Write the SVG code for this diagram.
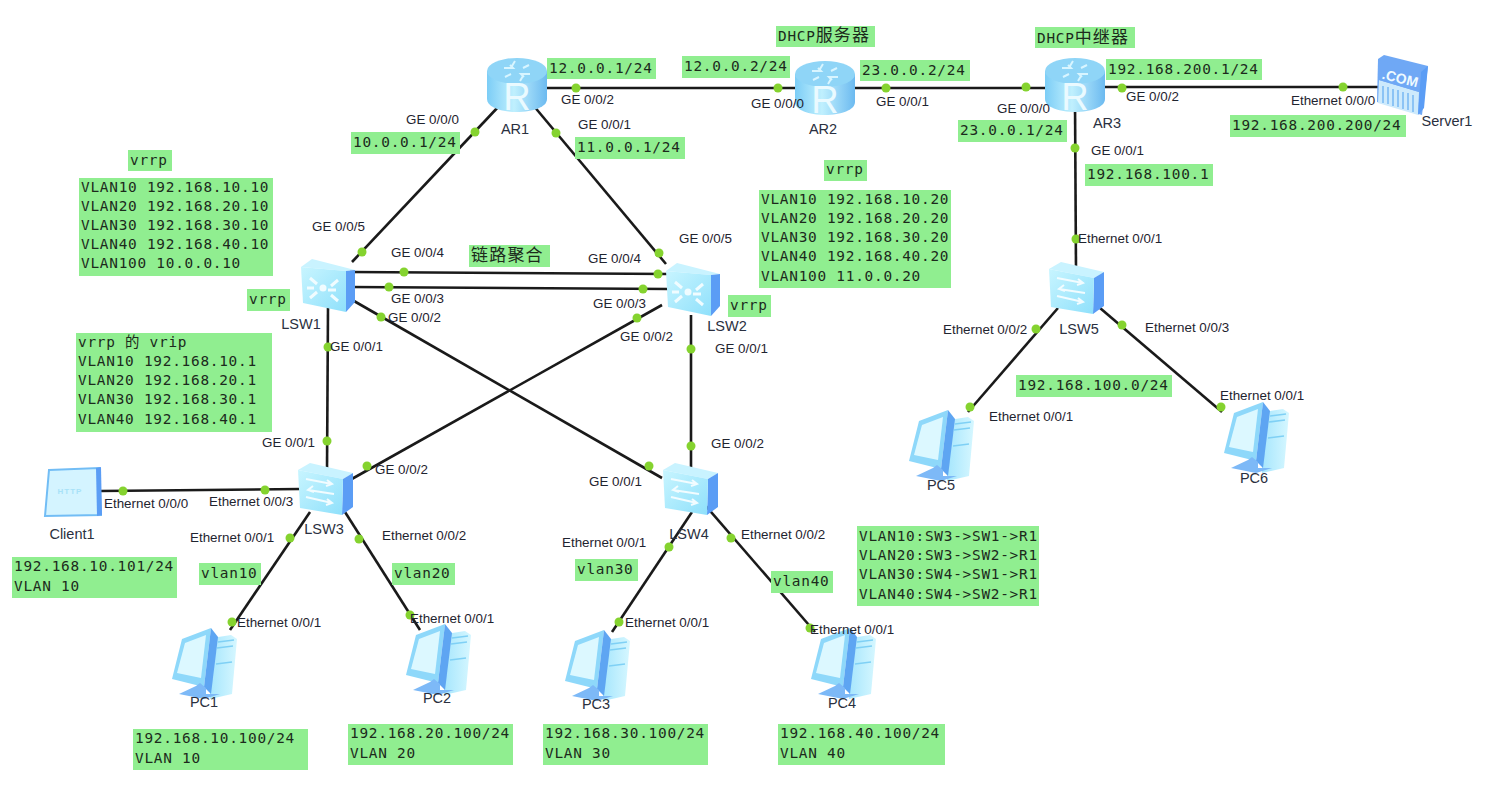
<svg xmlns="http://www.w3.org/2000/svg" width="1504" height="806" viewBox="0 0 1504 806">
<style>
text{font-family:"Liberation Sans","Noto Sans CJK SC",sans-serif;font-size:13.4px;fill:#1f2430}
.n{font-size:14.5px;fill:#2a3040;text-anchor:middle}
.m{font-family:"DejaVu Sans Mono","Noto Sans CJK SC",monospace;font-size:14.4px;letter-spacing:.75px;fill:#1c2a1c}
.z{font-size:17px;letter-spacing:1.2px}
.g{fill:#90ee90}
.c line{stroke:#1a1a1a;stroke-width:2.6}
.c circle{fill:#85d32f;r:4.5px}
.w{fill:none;stroke:#f2fcff;stroke-width:2}
</style>
<defs>
<linearGradient id="rb" x1="0" x2="1" y1="0" y2="0"><stop offset="0" stop-color="#7ccdf6"/><stop offset=".45" stop-color="#c0f0fe"/><stop offset="1" stop-color="#6cbaf0"/></linearGradient>
<linearGradient id="sf" x1="0" x2="1" y1="0" y2="1"><stop offset="0" stop-color="#c8f5ff"/><stop offset="1" stop-color="#8fe0fb"/></linearGradient>
<linearGradient id="tw" x1="0" x2="1" y1="0" y2="0"><stop offset="0" stop-color="#a6e6fd"/><stop offset="1" stop-color="#d6f7ff"/></linearGradient>
<g id="router">
<path d="M-30 -14V14C-30 22-16 27 0 27S30 22 30 14V-14Z" fill="url(#rb)"/>
<ellipse cx="0" cy="-14" rx="30" ry="13" fill="#8fd5f7"/>
<path d="M-13 -17h9l-3 -3M13 -11h-9l3 3M-2 -24l-3 5M3 -4l3 -5M12 -20l-6 3M-12 -8l6 -3" stroke="#d8f5ff" stroke-width="2" fill="none"/>
<text x="0" y="25" text-anchor="middle" style="font-size:38px;fill:#eafaff">R</text>
</g>
<g id="l3">
<path d="M-25 -19L-14 -27L29 -16L20 -15Z" fill="#c9f3ff"/>
<path d="M20 -15L29 -16V16L20 26Z" fill="#5b9df5"/>
<path d="M-25 -19L20 -15V26L-23 17Z" fill="url(#sf)"/>
<path d="M-16 -8l7 6M12 -6l-7 6M-16 12l7 -6M12 15l-7 -6M-19 2h7M2 4h8" stroke="#f0fcff" stroke-width="3" fill="none"/>
<circle cx="-3" cy="2" r="3.500" fill="#f0fcff"/>
</g>
<g id="l2">
<path d="M-28 -20L-16 -27L27 -17L17 -11Z" fill="#c9f3ff"/>
<path d="M17 -11L27 -17V17L16 25Z" fill="#5b9df5"/>
<path d="M-28 -20L17 -11L16 25L-26 18Z" fill="url(#sf)"/>
<path class="w" d="M-20 -11L6 -6M1 -10l5 4l-6 2M-18 0L8 4M-13 -4l-5 4l6 2M-20 7L6 13M1 9l5 4l-6 2"/>
</g>
<g id="pc">
<path d="M8 -28L27 -31L33 -27L28 28L6 33Z" fill="url(#tw)"/>
<path d="M14 -24l16 -2M13 -18l16 -2M12 -2l16 -2" stroke="#7fd0f5" stroke-width="1.500" fill="none"/>
<path d="M-22 -27L7 -38L0 21L-32 13Z" fill="#8ed8fa"/>
<path d="M-19 -23L2 -31L-3 12L-27 7Z" fill="#dcf8ff"/>
<path d="M7 -38L14 -29L7 28L0 21Z" fill="#5ea5f2"/>
<path d="M-8 20L-4 17L2 22V28L16 28L0 33L-25 28Z" fill="#7db9f7"/>
</g>
</defs>
<g class="c" id="connectors">
<line x1="517" y1="88" x2="827" y2="88"/>
<line x1="827" y1="88" x2="1075" y2="88"/>
<line x1="1075" y1="87" x2="1400" y2="87"/>
<line x1="500" y1="105" x2="352" y2="262"/>
<line x1="533" y1="105" x2="666" y2="264"/>
<line x1="1075" y1="100" x2="1076" y2="270"/>
<line x1="350" y1="272" x2="670" y2="274"/>
<line x1="350" y1="287" x2="670" y2="289"/>
<line x1="354" y1="301" x2="662" y2="478"/>
<line x1="662" y1="305" x2="350" y2="480"/>
<line x1="328" y1="308" x2="327" y2="470"/>
<line x1="691" y1="315" x2="691" y2="472"/>
<line x1="100" y1="491" x2="300" y2="489"/>
<line x1="310" y1="512" x2="230" y2="630"/>
<line x1="345" y1="512" x2="420" y2="630"/>
<line x1="692" y1="512" x2="612" y2="632"/>
<line x1="705" y1="505" x2="815" y2="632"/>
<line x1="1058" y1="308" x2="968" y2="412"/>
<line x1="1100" y1="308" x2="1222" y2="412"/>
<circle cx="576" cy="88"/><circle cx="778" cy="88"/><circle cx="886" cy="88"/><circle cx="1026" cy="87"/><circle cx="1122" cy="88"/><circle cx="1343" cy="87"/>
<circle cx="475" cy="132"/><circle cx="556" cy="133"/><circle cx="1075" cy="148"/><circle cx="362" cy="252"/><circle cx="659" cy="253"/>
<circle cx="404" cy="272"/><circle cx="658" cy="274"/><circle cx="389" cy="287"/><circle cx="643" cy="289"/><circle cx="381" cy="317"/><circle cx="637" cy="318"/>
<circle cx="328" cy="347"/><circle cx="691" cy="349"/><circle cx="327" cy="441"/><circle cx="691" cy="446"/><circle cx="367" cy="466"/><circle cx="649" cy="466"/>
<circle cx="123" cy="491"/><circle cx="265" cy="490"/><circle cx="290" cy="538"/><circle cx="359" cy="539"/><circle cx="669" cy="547"/><circle cx="731" cy="538"/>
<circle cx="232" cy="622"/><circle cx="410" cy="615"/><circle cx="619" cy="622"/><circle cx="810" cy="628"/>
<circle cx="1076" cy="239"/><circle cx="1036" cy="329"/><circle cx="1122" cy="325"/><circle cx="970" cy="407"/><circle cx="1221" cy="407"/>
</g>
<g id="AR1"><use href="#router" x="517" y="85"/><text class="n" x="515" y="134">AR1</text></g>
<g id="AR2"><use href="#router" x="825" y="88"/><text class="n" x="823" y="134">AR2</text></g>
<g id="AR3"><use href="#router" x="1075" y="85"/><text class="n" x="1107" y="128">AR3</text></g>
<g id="Server1">
<path d="M1378 59L1384 55L1428 66L1422 115L1377 102Z" fill="#6fa8f5"/>
<path d="M1379 80L1419 92L1418 115L1378 103Z" fill="#cdeafc"/>
<path d="M1421 72L1428 66L1424 108L1418 115Z" fill="#5b9df5"/>
<path d="M1379 60L1421 72L1419 92L1379 80Z" fill="#6fa8f5"/>
<path d="M1383 86v17M1388 87v17M1393 89v17M1398 90v17M1403 92v17M1408 93v17M1413 95v17" stroke="#8cc4f5" stroke-width="2"/>
<text x="1399" y="83" text-anchor="middle" transform="rotate(14 1399 83)" style="font-size:14px;font-weight:bold;fill:#eefaff">.COM</text>
<text class="n" x="1447" y="126">Server1</text>
</g>
<g id="LSW1"><use href="#l3" x="326" y="286"/><text class="n" x="301" y="329">LSW1</text></g>
<g id="LSW2"><use href="#l3" x="691" y="290"/><text class="n" x="727" y="331">LSW2</text></g>
<g id="LSW3"><use href="#l2" x="326" y="490"/><text class="n" x="324" y="534">LSW3</text></g>
<g id="LSW4"><use href="#l2" x="691" y="490"/><text class="n" x="689" y="539">LSW4</text></g>
<g id="LSW5"><use href="#l2" x="1077" y="289"/><text class="n" x="1079" y="334">LSW5</text></g>
<g id="Client1">
<path d="M49 470L99 468L101 515L45 516Z" fill="#d4f4ff" stroke="#72bdf5" stroke-width="2"/>
<path d="M96 468L101 467L102 515L97 516Z" fill="#5b9df5"/>
<text x="70" y="494" text-anchor="middle" style="font-size:8px;font-weight:bold;letter-spacing:1px;fill:#a8e2f8">HTTP</text>
<text class="n" x="72" y="539">Client1</text>
</g>
<g id="PC1"><use href="#pc" x="204" y="666"/><text class="n" x="204" y="707">PC1</text></g>
<g id="PC2"><use href="#pc" x="438" y="662"/><text class="n" x="437" y="703">PC2</text></g>
<g id="PC3"><use href="#pc" x="597" y="668"/><text class="n" x="596" y="709">PC3</text></g>
<g id="PC4"><use href="#pc" x="843" y="666"/><text class="n" x="842" y="708">PC4</text></g>
<g id="PC5"><use href="#pc" x="941" y="448"/><text class="n" x="941" y="490">PC5</text></g>
<g id="PC6"><use href="#pc" x="1256" y="440"/><text class="n" x="1254" y="483">PC6</text></g>
<g id="port-labels">
<text x="561" y="104">GE 0/0/2</text><text x="751" y="108">GE 0/0/0</text><text x="876" y="106">GE 0/0/1</text>
<text x="997" y="113">GE 0/0/0</text><text x="1126" y="101">GE 0/0/2</text><text x="1291" y="105">Ethernet 0/0/0</text>
<text x="406" y="124">GE 0/0/0</text><text x="578" y="129">GE 0/0/1</text><text x="1091" y="155">GE 0/0/1</text>
<text x="312" y="231">GE 0/0/5</text><text x="679" y="243">GE 0/0/5</text>
<text x="391" y="257">GE 0/0/4</text><text x="588" y="263">GE 0/0/4</text>
<text x="391" y="303">GE 0/0/3</text><text x="593" y="308">GE 0/0/3</text>
<text x="388" y="322">GE 0/0/2</text><text x="620" y="341">GE 0/0/2</text>
<text x="330" y="351">GE 0/0/1</text><text x="715" y="353">GE 0/0/1</text>
<text x="262" y="447">GE 0/0/1</text><text x="711" y="448">GE 0/0/2</text>
<text x="375" y="474">GE 0/0/2</text><text x="589" y="486">GE 0/0/1</text>
<text x="104" y="508">Ethernet 0/0/0</text><text x="209" y="506">Ethernet 0/0/3</text>
<text x="190" y="542">Ethernet 0/0/1</text><text x="382" y="540">Ethernet 0/0/2</text>
<text x="562" y="547">Ethernet 0/0/1</text><text x="741" y="539">Ethernet 0/0/2</text>
<text x="237" y="627">Ethernet 0/0/1</text><text x="410" y="623">Ethernet 0/0/1</text>
<text x="625" y="627">Ethernet 0/0/1</text><text x="810" y="634">Ethernet 0/0/1</text>
<text x="1078" y="243">Ethernet 0/0/1</text><text x="943" y="334">Ethernet 0/0/2</text><text x="1145" y="332">Ethernet 0/0/3</text>
<text x="989" y="421">Ethernet 0/0/1</text><text x="1220" y="400">Ethernet 0/0/1</text>
</g>
<g id="notes">
<rect class="g" x="776" y="26" width="99" height="21"/><text class="m" x="778" y="41">DHCP<tspan class="z">服务器</tspan></text>
<rect class="g" x="547" y="58" width="109" height="21"/><text class="m" x="549" y="73">12.0.0.1/24</text>
<rect class="g" x="682" y="56" width="108" height="22"/><text class="m" x="684" y="71">12.0.0.2/24</text>
<rect class="g" x="860" y="60" width="110" height="21"/><text class="m" x="862" y="75">23.0.0.2/24</text>
<rect class="g" x="1035" y="27" width="100" height="21"/><text class="m" x="1037" y="43">DHCP<tspan class="z">中继器</tspan></text>
<rect class="g" x="1106" y="59" width="156" height="21"/><text class="m" x="1108" y="74">192.168.200.1/24</text>
<rect class="g" x="958" y="120" width="109" height="22"/><text class="m" x="960" y="135">23.0.0.1/24</text>
<rect class="g" x="1230" y="115" width="176" height="22"/><text class="m" x="1232" y="130">192.168.200.200/24</text>
<rect class="g" x="1085" y="164" width="128" height="22"/><text class="m" x="1087" y="179">192.168.100.1</text>
<rect class="g" x="351" y="132" width="109" height="22"/><text class="m" x="353" y="147">10.0.0.1/24</text>
<rect class="g" x="575" y="137" width="110" height="22"/><text class="m" x="577" y="152">11.0.0.1/24</text>
<rect class="g" x="128" y="150" width="44" height="21"/><text class="m" x="130" y="165">vrrp</text>
<rect class="g" x="79" y="178" width="194" height="98"/>
<text class="m"><tspan x="81" y="192">VLAN10 192.168.10.10</tspan><tspan x="81" y="211">VLAN20 192.168.20.10</tspan><tspan x="81" y="230">VLAN30 192.168.30.10</tspan><tspan x="81" y="249">VLAN40 192.168.40.10</tspan><tspan x="81" y="268">VLAN100 10.0.0.10</tspan></text>
<rect class="g" x="469" y="245" width="81" height="22"/><text class="m z" x="471" y="261">链路聚合</text>
<rect class="g" x="247" y="289" width="43" height="22"/><text class="m" x="249" y="304">vrrp</text>
<rect class="g" x="728" y="295" width="43" height="22"/><text class="m" x="730" y="310">vrrp</text>
<rect class="g" x="824" y="160" width="43" height="21"/><text class="m" x="826" y="174">vrrp</text>
<rect class="g" x="759" y="190" width="192" height="98"/>
<text class="m"><tspan x="761" y="204">VLAN10 192.168.10.20</tspan><tspan x="761" y="223">VLAN20 192.168.20.20</tspan><tspan x="761" y="242">VLAN30 192.168.30.20</tspan><tspan x="761" y="261">VLAN40 192.168.40.20</tspan><tspan x="761" y="281">VLAN100 11.0.0.20</tspan></text>
<rect class="g" x="76" y="333" width="196" height="99"/>
<text class="m"><tspan x="78" y="347">vrrp 的 vrip</tspan><tspan x="78" y="366">VLAN10 192.168.10.1</tspan><tspan x="78" y="385">VLAN20 192.168.20.1</tspan><tspan x="78" y="404">VLAN30 192.168.30.1</tspan><tspan x="78" y="424">VLAN40 192.168.40.1</tspan></text>
<rect class="g" x="1016" y="375" width="156" height="22"/><text class="m" x="1018" y="390">192.168.100.0/24</text>
<rect class="g" x="12" y="557" width="165" height="41"/>
<text class="m"><tspan x="14" y="571">192.168.10.101/24</tspan><tspan x="14" y="591">VLAN 10</tspan></text>
<rect class="g" x="199" y="563" width="62" height="22"/><text class="m" x="201" y="578">vlan10</text>
<rect class="g" x="392" y="563" width="63" height="22"/><text class="m" x="394" y="578">vlan20</text>
<rect class="g" x="575" y="559" width="63" height="22"/><text class="m" x="577" y="574">vlan30</text>
<rect class="g" x="771" y="571" width="62" height="22"/><text class="m" x="773" y="586">vlan40</text>
<rect class="g" x="857" y="526" width="182" height="80"/>
<text class="m"><tspan x="859" y="541">VLAN10:SW3-&gt;SW1-&gt;R1</tspan><tspan x="859" y="560">VLAN20:SW3-&gt;SW2-&gt;R1</tspan><tspan x="859" y="579">VLAN30:SW4-&gt;SW1-&gt;R1</tspan><tspan x="859" y="599">VLAN40:SW4-&gt;SW2-&gt;R1</tspan></text>
<rect class="g" x="133" y="729" width="175" height="41"/>
<text class="m"><tspan x="135" y="743">192.168.10.100/24</tspan><tspan x="135" y="763">VLAN 10</tspan></text>
<rect class="g" x="348" y="724" width="165" height="41"/>
<text class="m"><tspan x="350" y="738">192.168.20.100/24</tspan><tspan x="350" y="758">VLAN 20</tspan></text>
<rect class="g" x="543" y="724" width="165" height="41"/>
<text class="m"><tspan x="545" y="738">192.168.30.100/24</tspan><tspan x="545" y="758">VLAN 30</tspan></text>
<rect class="g" x="778" y="724" width="167" height="41"/>
<text class="m"><tspan x="780" y="738">192.168.40.100/24</tspan><tspan x="780" y="758">VLAN 40</tspan></text>
</g>
</svg>
